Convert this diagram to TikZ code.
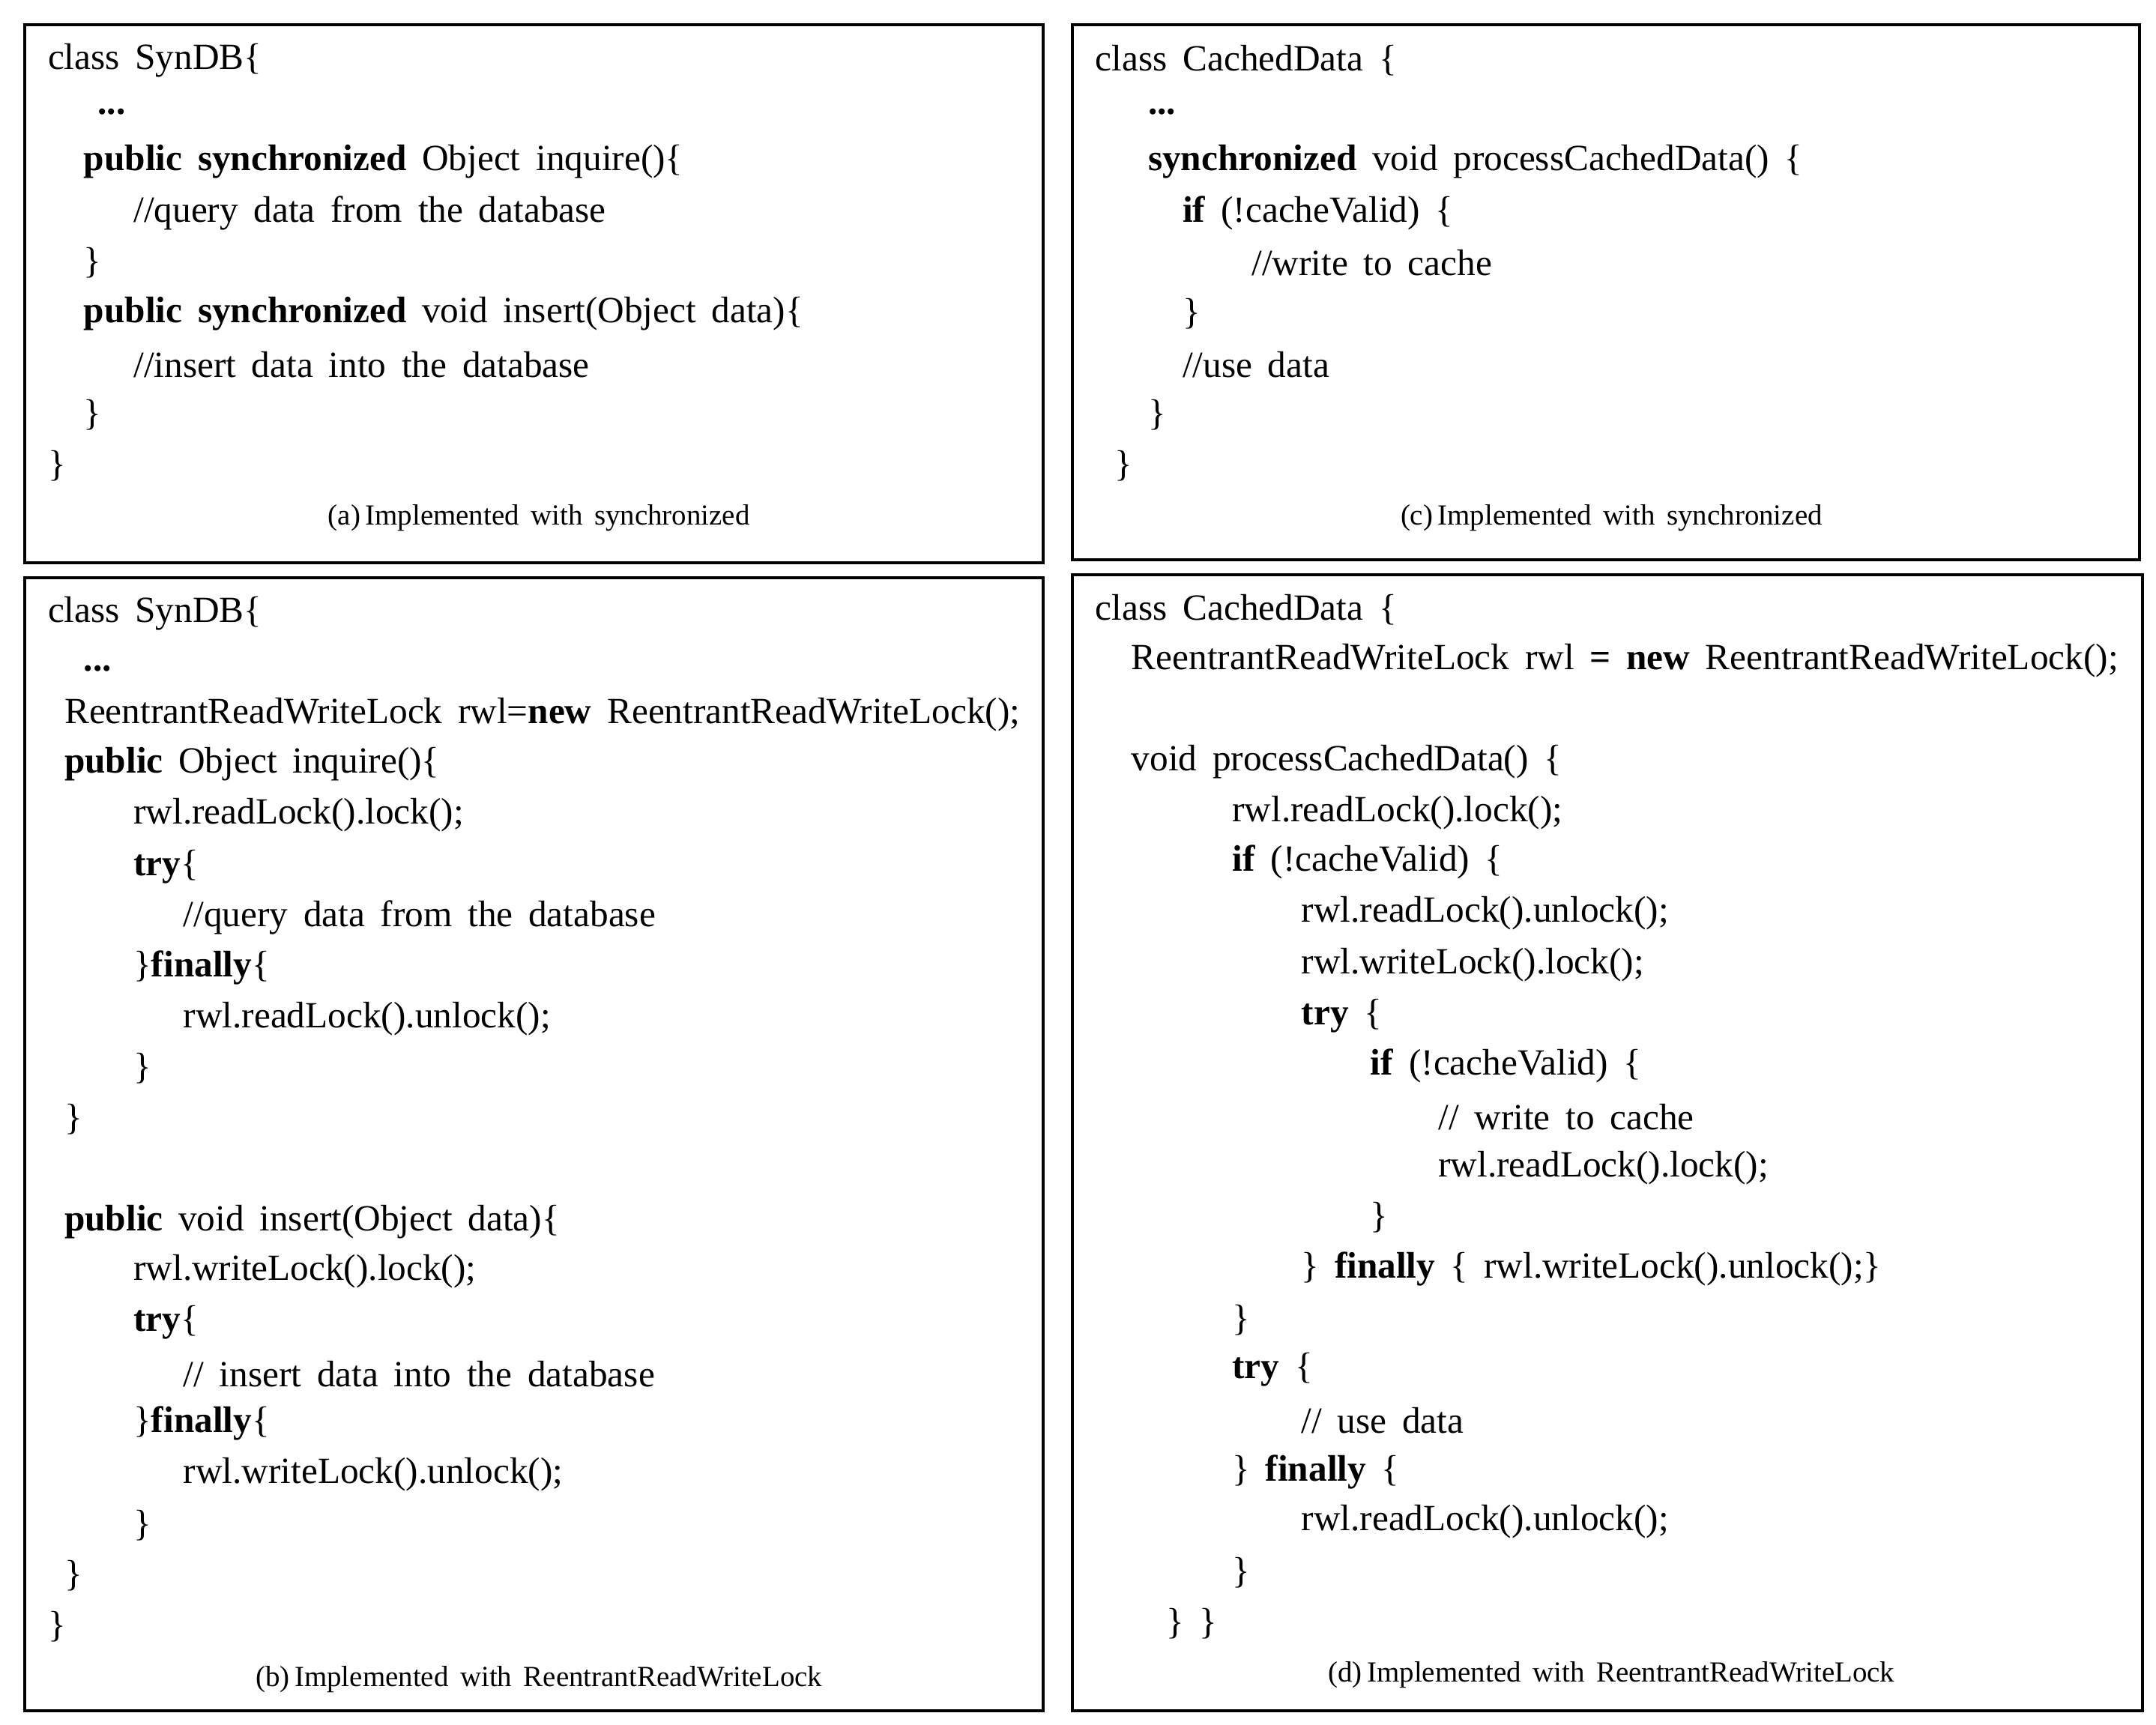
\documentclass[tikz,border=0pt]{standalone}
\usepackage{fontspec}
\setmainfont{Liberation Serif}
\newcommand{\mycodefont}{\fontsize{7.6}{9}\selectfont\spaceskip=0.42em plus 0.1em\relax}
\newcommand{\mycapfont}{\fontsize{6}{7}\selectfont\spaceskip=0.4em\relax}
\begin{document}
\begin{tikzpicture}[x=0.01cm,y=-0.01cm,
  code/.style={anchor=west,inner sep=0pt,font=\mycodefont},
  captext/.style={anchor=center,inner sep=0pt,font=\mycapfont},
  panel/.style={draw,line width=0.6pt}]
\useasboundingbox (0,0) rectangle (1560,1248);
\draw[panel] (18,18) rectangle (755,407);
\draw[panel] (776,18) rectangle (1548,405);
\draw[panel] (18,418) rectangle (755,1238);
\draw[panel] (776,416) rectangle (1550,1238);
% panel a
\node[code] (a1) at (34,44) {class SynDB\{};
\node[code] (a2) at (70,81) {\textbf{...}};
\node[code] (a3) at (60,117) {\textbf{public synchronized} Object inquire()\{};
\node[code] (a4) at (96,154) {//query data from the database};
\node[code] (a5) at (60,190) {\}};
\node[code] (a6) at (60,227) {\textbf{public synchronized} void insert(Object data)\{};
\node[code] (a7) at (96,264) {//insert data into the database};
\node[code] (a8) at (60,300) {\}};
\node[code] (a9) at (34,337) {\}};
\node[captext] (acap) at (390,375) {(a)\,Implemented with synchronized};
% panel c
\node[code] (c1) at (792,44) {class CachedData \{};
\node[code] (c2) at (830,81) {\textbf{...}};
\node[code] (c3) at (830,117) {\textbf{synchronized} void processCachedData() \{};
\node[code] (c4) at (855,154) {\textbf{if} (!cacheValid) \{};
\node[code] (c5) at (905,190) {//write to cache};
\node[code] (c6) at (855,227) {\}};
\node[code] (c7) at (855,264) {//use data};
\node[code] (c8) at (830,300) {\}};
\node[code] (c9) at (806,337) {\}};
\node[captext] (ccap) at (1166,375) {(c)\,Implemented with synchronized};
% panel b
\node[code] (b1) at (34,444) {class SynDB\{};
\node[code] (b2) at (60,484) {\textbf{...}};
\node[code] (b3) at (46,517) {ReentrantReadWriteLock rwl=\textbf{new} ReentrantReadWriteLock();};
\node[code] (b4) at (46,553) {\textbf{public} Object inquire()\{};
\node[code] (b5) at (96,590) {rwl.readLock().lock();};
\node[code] (b6) at (96,627) {\textbf{try}\{};
\node[code] (b7) at (132,664) {//query data from the database};
\node[code] (b8) at (96,700) {\}\textbf{finally}\{};
\node[code] (b9) at (132,737) {rwl.readLock().unlock();};
\node[code] (b10) at (96,773) {\}};
\node[code] (b11) at (46,810) {\}};
\node[code] (b12) at (46,884) {\textbf{public} void insert(Object data)\{};
\node[code] (b13) at (96,920) {rwl.writeLock().lock();};
\node[code] (b14) at (96,957) {\textbf{try}\{};
\node[code] (b15) at (132,994) {// insert data into the database};
\node[code] (b16) at (96,1030) {\}\textbf{finally}\{};
\node[code] (b17) at (132,1067) {rwl.writeLock().unlock();};
\node[code] (b18) at (96,1104) {\}};
\node[code] (b19) at (46,1140) {\}};
\node[code] (b20) at (34,1177) {\}};
\node[captext] (bcap) at (390,1215) {(b)\,Implemented with ReentrantReadWriteLock};
% panel d
\node[code] (d1) at (792,441) {class CachedData \{};
\node[code] (d2) at (818,478) {ReentrantReadWriteLock rwl \textbf{=} \textbf{new} ReentrantReadWriteLock();};
\node[code] (d3) at (818,551) {void processCachedData() \{};
\node[code] (d4) at (891,588) {rwl.readLock().lock();};
\node[code] (d5) at (891,624) {\textbf{if} (!cacheValid) \{};
\node[code] (d6) at (941,661) {rwl.readLock().unlock();};
\node[code] (d7) at (941,698) {rwl.writeLock().lock();};
\node[code] (d8) at (941,735) {\textbf{try} \{};
\node[code] (d9) at (991,771) {\textbf{if} (!cacheValid) \{};
\node[code] (d10) at (1040,808) {// write to cache};
\node[code] (d11) at (1040,845) {rwl.readLock().lock();};
\node[code] (d12) at (991,881) {\}};
\node[code] (d13) at (941,918) {\} \textbf{finally} \{ rwl.writeLock().unlock();\}};
\node[code] (d14) at (891,955) {\}};
\node[code] (d15) at (891,991) {\textbf{try} \{};
\node[code] (d16) at (941,1028) {// use data};
\node[code] (d17) at (891,1065) {\} \textbf{finally} \{};
\node[code] (d18) at (941,1101) {rwl.readLock().unlock();};
\node[code] (d19) at (891,1138) {\}};
\node[code] (d20) at (843,1175) {\} \}};
\node[captext] (dcap) at (1166,1212) {(d)\,Implemented with ReentrantReadWriteLock};
\end{tikzpicture}
\end{document}
